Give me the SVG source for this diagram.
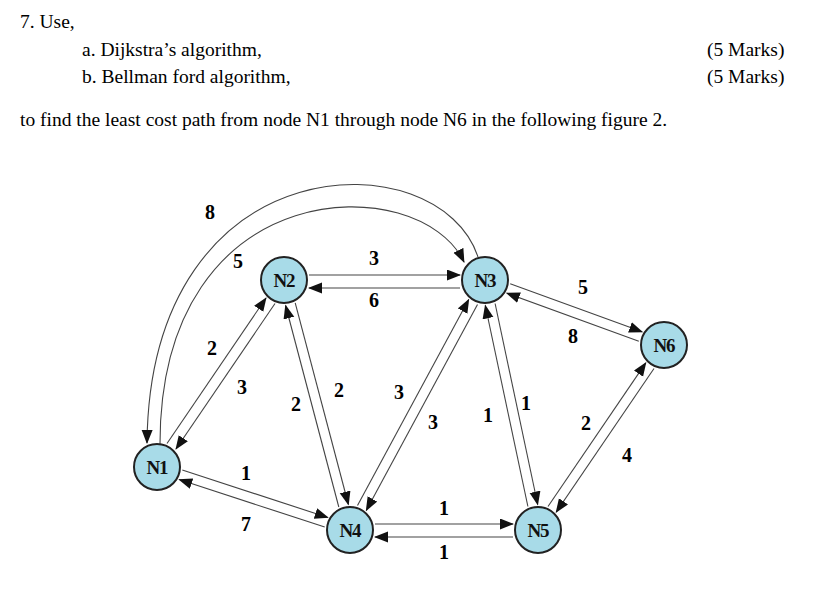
<svg xmlns="http://www.w3.org/2000/svg" width="827" height="592" viewBox="0 0 827 592">
<style>
.t{font-family:"Liberation Serif",serif;font-size:19.5px;fill:#000}
.l{font-family:"Liberation Serif",serif;font-size:20px;font-weight:bold;fill:#000;text-anchor:middle}
.n{fill:#a8dbe8;stroke:#222;stroke-width:2}
.nl{font-family:"Liberation Serif",serif;font-size:19px;font-weight:bold;fill:#111;text-anchor:middle;letter-spacing:-1px}
.e{stroke:#444;stroke-width:1.1;fill:none;marker-end:url(#a)}
</style>
<defs>
<marker id="a" markerUnits="userSpaceOnUse" markerWidth="14" markerHeight="12" refX="13" refY="5.5" orient="auto">
<path d="M0,0 L14,5.5 L0,11 z" fill="#111"/>
</marker>
</defs>
<rect width="827" height="592" fill="#fff"/>
<text class="t" x="20" y="28">7.  Use,</text>
<text class="t" x="82" y="56">a.   Dijkstra’s algorithm,</text>
<text class="t" x="82" y="83">b.   Bellman ford algorithm,</text>
<text class="t" x="707" y="56">(5 Marks)</text>
<text class="t" x="707" y="83">(5 Marks)</text>
<text class="t" x="20" y="126">to find the least cost path from node N1 through node N6 in the following figure 2.</text>
<g id="connectors">
<path class="e" d="M478,257 C440,140 150,140 147,443"/>
<path class="e" d="M160,444 C160,170 420,170 464,262"/>
<line class="e" x1="309" y1="275" x2="460" y2="275"/>
<line class="e" x1="460" y1="288" x2="309" y2="288"/>
<line class="e" x1="167" y1="443.5" x2="266" y2="298"/>
<line class="e" x1="275" y1="303.5" x2="176" y2="449"/>
<line class="e" x1="338.8" y1="507" x2="285.6" y2="305.5"/>
<line class="e" x1="295.2" y1="302.9" x2="348.4" y2="504.5"/>
<line class="e" x1="477.5" y1="304.4" x2="366.3" y2="510.4"/>
<line class="e" x1="357.5" y1="505.6" x2="468.7" y2="299.6"/>
<line class="e" x1="527.9" y1="506.5" x2="485.3" y2="305.5"/>
<line class="e" x1="495.1" y1="303.5" x2="537.7" y2="504.5"/>
<line class="e" x1="510.2" y1="283.8" x2="642.2" y2="331.8"/>
<line class="e" x1="638.8" y1="341.2" x2="506.8" y2="293.2"/>
<line class="e" x1="548" y1="506.5" x2="645.8" y2="362.9"/>
<line class="e" x1="654" y1="368.5" x2="556.2" y2="512.1"/>
<line class="e" x1="182.3" y1="470" x2="327.8" y2="517.5"/>
<line class="e" x1="324.7" y1="527" x2="179.2" y2="479.6"/>
<line class="e" x1="375" y1="524" x2="513" y2="524"/>
<line class="e" x1="513" y1="537" x2="375" y2="537"/>
</g>
<g id="labels">
<text class="l" x="210" y="219">8</text>
<text class="l" x="238" y="268">5</text>
<text class="l" x="374" y="265">3</text>
<text class="l" x="374" y="307">6</text>
<text class="l" x="212" y="355">2</text>
<text class="l" x="242" y="394">3</text>
<text class="l" x="296" y="411">2</text>
<text class="l" x="339" y="397">2</text>
<text class="l" x="399" y="399">3</text>
<text class="l" x="433" y="429">3</text>
<text class="l" x="488" y="422">1</text>
<text class="l" x="526" y="410">1</text>
<text class="l" x="583" y="294">5</text>
<text class="l" x="573" y="343">8</text>
<text class="l" x="586" y="430">2</text>
<text class="l" x="627" y="462">4</text>
<text class="l" x="246" y="480">1</text>
<text class="l" x="246" y="531">7</text>
<text class="l" x="444" y="515">1</text>
<text class="l" x="444" y="559">1</text>
</g>
<g id="N1"><circle class="n" cx="157" cy="467" r="23"/><text class="nl" x="157" y="474">N1</text></g>
<g id="N2"><circle class="n" cx="284" cy="280" r="23"/><text class="nl" x="284" y="287">N2</text></g>
<g id="N3"><circle class="n" cx="485" cy="280" r="23"/><text class="nl" x="485" y="287">N3</text></g>
<g id="N4"><circle class="n" cx="350" cy="530" r="23"/><text class="nl" x="350" y="537">N4</text></g>
<g id="N5"><circle class="n" cx="538" cy="530" r="23"/><text class="nl" x="538" y="537">N5</text></g>
<g id="N6"><circle class="n" cx="664" cy="345" r="23"/><text class="nl" x="664" y="352">N6</text></g>
</svg>
